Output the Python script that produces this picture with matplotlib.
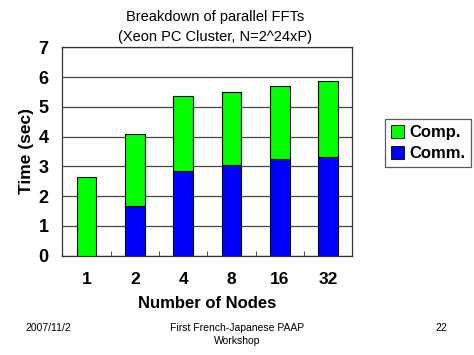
import matplotlib
matplotlib.use("Agg")
import matplotlib.pyplot as plt
import numpy as np
from matplotlib.patches import Patch

nodes = ["1", "2", "4", "8", "16", "32"]
comm = [0.0, 1.67, 2.83, 3.05, 3.25, 3.33]
total = [2.65, 4.10, 5.37, 5.49, 5.69, 5.88]
comp = [t - c for t, c in zip(total, comm)]

W, H = 474, 355
fig = plt.figure(figsize=(W / 100, H / 100), dpi=100)
fig.patch.set_facecolor("white")

L, R, T, B = 62.3, 352.3, 47.3, 255.7
ax = fig.add_axes([L / W, 1 - B / H, (R - L) / W, (B - T) / H])

x = np.arange(len(nodes))
bw = 0.41
ax.bar(x, comm, bw, color="#0000FF", edgecolor="black", linewidth=0.8, zorder=3)
ax.bar(x, comp, bw, bottom=comm, color="#00FF00", edgecolor="black", linewidth=0.8, zorder=3)

ax.set_xlim(-0.5, len(nodes) - 0.5)
ax.set_ylim(0, 7)
ax.set_yticks(range(0, 8))
ax.yaxis.grid(True, color="#444444", linewidth=0.9, zorder=0)
ax.set_axisbelow(True)
for s in ax.spines.values():
    s.set_color("#333333")
    s.set_linewidth(0.9)

fnt = "Liberation Sans"
ax.set_xticks(x)
ax.set_xticklabels(nodes, fontfamily=fnt, fontweight="bold", fontsize=12.5)
ax.set_xticks(np.arange(0.5, len(nodes) - 1, 1), minor=True)
ax.tick_params(axis="x", which="major", length=0, pad=12)
ax.tick_params(axis="x", which="minor", length=3.5, direction="in", color="#333333")
ax.tick_params(axis="y", which="major", length=0, pad=10)
for lab in ax.get_yticklabels():
    lab.set_fontfamily(fnt)
    lab.set_fontweight("bold")
    lab.set_fontsize(13)

ax.set_xlabel("Number of Nodes", fontfamily=fnt, fontweight="bold", fontsize=12, labelpad=6)
ax.set_ylabel("Time (sec)", fontfamily=fnt, fontweight="bold", fontsize=12.5, labelpad=3)

fig.text(215 / W, 1 - 17 / H, "Breakdown of parallel FFTs", ha="center", va="center",
         fontfamily=fnt, fontsize=10.5)
fig.text(215 / W, 1 - 37 / H, "(Xeon PC Cluster, N=2^24xP)", ha="center", va="center",
         fontfamily=fnt, fontsize=10.5)

handles = [Patch(facecolor="#00FF00", edgecolor="black", linewidth=0.6, label="Comp."),
           Patch(facecolor="#0000FF", edgecolor="black", linewidth=0.6, label="Comm.")]
leg = fig.legend(handles=handles, loc="upper left", bbox_to_anchor=(385 / W, 1 - 119 / H),
                 frameon=True, fancybox=False, edgecolor="#333333", borderpad=0.35,
                 handlelength=0.8, handleheight=0.8, handletextpad=0.3, labelspacing=0.35,
                 borderaxespad=0, prop={"family": fnt, "weight": "bold", "size": 12})
leg.get_frame().set_linewidth(0.9)

fig.text(48 / W, 1 - 328 / H, "2007/11/2", ha="center", va="center", fontfamily=fnt, fontsize=7.5)
fig.text(237 / W, 1 - 328 / H, "First French-Japanese PAAP", ha="center", va="center",
         fontfamily=fnt, fontsize=7.5)
fig.text(237 / W, 1 - 341 / H, "Workshop", ha="center", va="center", fontfamily=fnt, fontsize=7.5)
fig.text(441 / W, 1 - 328 / H, "22", ha="center", va="center", fontfamily=fnt, fontsize=7.5)

fig.savefig("out.png", dpi=100, facecolor="white")
